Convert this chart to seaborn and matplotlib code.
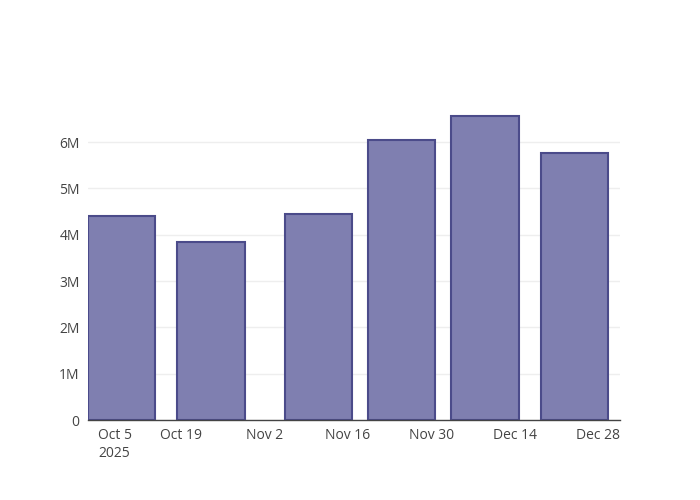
import numpy as np
import pandas as pd
import matplotlib
matplotlib.use("Agg")
import matplotlib.pyplot as plt
import matplotlib.dates as mdates
import seaborn as sns

# bar dates and values
dates = ["2025-10-09", "2025-10-24", "2025-11-11", "2025-11-25", "2025-12-09", "2025-12-24"]
values = [4.41e6, 3.84e6, 4.45e6, 6.05e6, 6.57e6, 5.77e6]
tick_dates = ["2025-10-05", "2025-10-19", "2025-11-02", "2025-11-16", "2025-11-30", "2025-12-14", "2025-12-28"]
tick_labels = ["Oct 5\n2025", "Oct 19", "Nov 2", "Nov 16", "Nov 30", "Dec 14", "Dec 28"]

sns.set_theme(style="white")
plt.rcParams['font.family'] = ['Open Sans', 'DejaVu Sans']

df = pd.DataFrame({"date": pd.to_datetime(dates), "value": values})

fig = plt.figure(figsize=(7, 5), dpi=100)
ax = fig.add_axes([88/700, 80/500, 532/700, 320/500])

ax.bar(df["date"], df["value"], width=11.3, color="#7f7fb0",
       edgecolor="#4b4b8a", linewidth=1.5, zorder=2)

ax.set_xlim(pd.Timestamp("2025-10-03 08:00"), pd.Timestamp("2025-12-31 16:00"))
ax.set_ylim(0, 6.91e6)
ax.set_xticks(pd.to_datetime(tick_dates))
ax.set_xticklabels(tick_labels, ha="left")
for lab in ax.get_xticklabels():
    lab.set_horizontalalignment("center")
ax.get_xticklabels()[0].set_horizontalalignment("left")
ax.get_xticklabels()[0].set_x(0)

yt = [0, 1e6, 2e6, 3e6, 4e6, 5e6, 6e6]
ax.set_yticks(yt)
ax.set_yticklabels(["0", "1M", "2M", "3M", "4M", "5M", "6M"])
ax.yaxis.grid(True, color="#eeeeee", linewidth=1, zorder=0)
ax.tick_params(axis="both", labelsize=10, colors="#444444", length=0, pad=6)
for s in ["top", "right", "left"]:
    ax.spines[s].set_visible(False)
ax.spines["bottom"].set_color("#444444")
ax.spines["bottom"].set_linewidth(1)

fig.savefig("out.png", dpi=100)
